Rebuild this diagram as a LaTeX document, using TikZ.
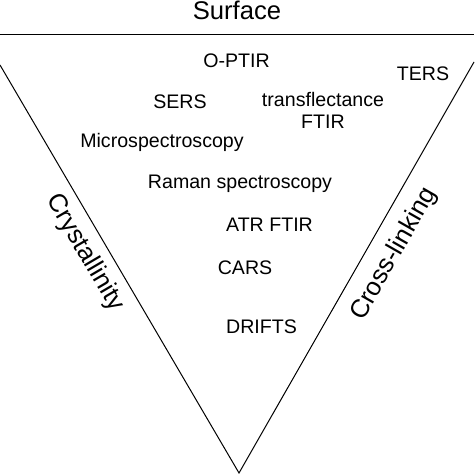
\documentclass[tikz,border=0pt]{standalone}
\usepackage{fontspec}
\setmainfont{Liberation Sans}

\begin{document}
\begin{tikzpicture}[x=0.5pt,y=-0.5pt]
	\tikzset{lbl/.style={anchor=base, font=\fontsize{9.8}{12}\selectfont}, %technique names
		big/.style={font=\fontsize{12.8}{15}\selectfont}} %axis names
	\useasboundingbox (0,0) rectangle (474,474);
	\coordinate(L) at (0,35);
	\coordinate(R) at (474,35);
	\draw[line width=0.5pt](L)--(R); % surface line
	\coordinate(A) at (0,65);
	\coordinate(B) at (474,62);
	\coordinate(C) at (239,473);
	\draw[line width=0.5pt](A)--(C)--(B); % the two sides
	\node[lbl,big](surf) at (237,19.5){Surface};
	\node[big, rotate=-59.6](cryst) at (85,253){Crystallinity};
	\node[big, rotate=60.3](cross) at (394,254){Cross-linking};
	\node[lbl](optir) at (236.5,68){O-PTIR};
	\node[lbl](ters) at (423,81){TERS};
	\node[lbl](sers) at (180,109){SERS};
	\node[lbl](trans) at (323,107){transflectance};
	\node[lbl](ftir) at (323,129){FTIR};
	\node[lbl](micro) at (162,148){Microspectroscopy};
	\node[lbl](raman) at (240,189){Raman spectroscopy};
	\node[lbl](atr) at (269.5,232){ATR FTIR};
	\node[lbl](cars) at (245,275){CARS};
	\node[lbl](drifts) at (261.5,333){DRIFTS};
\end{tikzpicture}
\end{document}
